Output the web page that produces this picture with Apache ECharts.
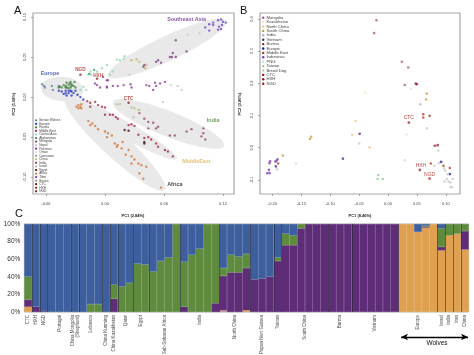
<!DOCTYPE html>
<html><head><meta charset="utf-8">
<style>html,body{margin:0;padding:0;background:#fff}#c{width:474px;height:355px}</style>
<script src="https://cdn.jsdelivr.net/npm/echarts@6/dist/echarts.min.js"></script>
</head><body><div id="c"></div>
<script>
// ---------- Panel A (PC1, PC2) ----------
const aSoutheast=[[.106,.091],[.110,.093],[.115,.096],[.118,.097],[.120,.094],[.123,.093],[.119,.090],[.116,.088],[.115,.084],[.118,.085],[.110,.090],[.106,.083],[.102,.087]];
const aMongolia=[[.083,.057],[.069,.055],[.068,.050],[.066,.050],[.072,.050],[.054,.046],[.057,.043],[.052,.044],[.040,.040],[.039,.038],[.072,.071]];
const aNepal=[[.084,.078],[.096,.080],[.025,.028],[.067,.015],[.074,.014],[.078,.009],[.059,-.006]];
const aChina=[[.027,.046],[.032,.047],[.035,.044],[.041,.036],[.042,.040]];
const aCentral=[[.012,.047],[.015,.046],[.019,.048],[.020,.051],[.002,.040],[-.003,.036],[-.008,.032],[-.015,.032],[-.017,.028],[.008,.032],[.005,.028],[-.014,.028],[-.025,.009],[-.019,.009],[-.022,.013]];
const aAfghan=[[-.011,.034],[-.016,.029]];
const aPakistan=[[.002,.021],[-.008,.015],[-.005,.012],[.002,.013],[.008,.014],[.013,.014],[.019,.015],[.026,.016],[.027,.012],[.042,.015],[.051,.018],[.052,.014],[.056,.017],[.061,.019],[.045,.014],[.049,.009],[.002,.012],[-.010,.017],[.003,.021],[-.002,.025]];
const aIberian=[[-.064,.016],[-.061,.012],[-.054,.014],[-.053,.009],[-.062,.014],[-.047,.014]];
const aRussia=[[-.047,.012],[-.044,.012],[-.040,.014],[-.037,.015],[-.034,.016],[-.031,.019],[-.039,.018],[-.035,.019],[-.042,.015],[-.046,.013],[-.039,.012],[-.035,.012],[-.032,.014],[-.037,.011],[-.034,.014],[-.040,.012],[-.030,.012],[-.036,.017]];
const aEurope=[[-.047,.008],[-.044,.007],[-.040,.005],[-.037,.005],[-.034,.007],[-.030,.008],[-.042,.004],[-.039,.002],[-.035,.008],[-.032,.005],[-.037,.008],[-.040,.008],[-.025,.000],[-.028,.003],[-.022,-.003],[-.034,.002]];
const aMiddle=[[-.018,-.005],[-.015,-.007],[-.010,-.006],[-.007,-.010],[-.003,-.012],[.000,-.013],[.005,-.022],[.008,-.022],[.011,-.025],[.013,-.027],[.000,-.022],[-.015,-.012],[.024,-.035],[.027,-.034],[.030,-.036],[.034,-.047],[.040,-.051],[.044,-.050],[.047,-.053],[.052,-.058],[.061,-.066],[.064,-.068],[.069,-.074],[.054,-.062]];
const aEgypt=[[.040,-.056],[.040,-.058],[.020,-.041],[.024,-.042]];
const aAfrica=[[-.027,-.010],[-.025,-.012],[-.027,-.014],[-.024,-.009],[-.029,-.012],[-.024,-.014],[-.017,-.030],[-.013,-.033],[-.015,-.035],[-.010,-.036],[-.007,-.040],[.000,-.043],[.003,-.045],[.002,-.050],[.007,-.048],[.010,-.058],[.013,-.060],[.012,-.062],[.017,-.064],[.018,-.056],[.024,-.066],[.021,-.072],[.027,-.074],[.030,-.078],[.027,-.083],[.034,-.083],[.035,-.095],[.037,-.085],[.039,-.102],[.057,-.113],[.042,-.087]];
const aIndiaPale=[[.012,-.009],[.015,-.009],[.027,-.013],[.030,-.014],[.034,-.016],[.035,-.016],[.029,-.025]];
const aIndia=[[.040,-.027],[.044,-.031],[.049,-.032],[.052,-.039],[.054,-.037],[.066,-.048],[.071,-.048],[.083,-.043],[.088,-.040],[.100,-.039],[.100,-.045],[.098,-.049],[.102,-.053],[.035,-.020],[.044,-.039]];
const aCTC=[[.024,-.007]], aHXH=[[-.008,.023]], aNGD=[[-.025,.028]];
// ends of each ellipse's long axis, then width / length
const aEllipses=[[-.065,.012,-.022,.008,.58],[.003,.026,.123,.095,.19],[.008,-.006,.121,-.061,.21],[-.039,0,.073,-.077,.13],[-.040,-.002,.061,-.116,.19]];
const aLabels=[['Southeast Asia',.083,.097,'#6a2a8c'],['Europe',-.056,.029,'#3040b0'],['NGD',-.025,.034,'#b02020'],['HXH',-.007,.027,'#b02020'],['CTC',.024,-.002,'#b02020'],['India',.110,-.029,'#4f8a3a'],['MiddleEast',.093,-.080,'#e0b050'],['Africa',.071,-.109,'#111']];
const aXTicks=[-.06,0,.06,.12], aYTicks=[-.1,-.05,0,.05,.1];
const aLegend=[['Iberian Wolves',aIberian,'#667799'],['Europe',aEurope,'#2030c0'],['Russia',aRussia,'#3d7a3d'],['Middle East',aMiddle,'#a02040'],['Central Asia',aCentral,'#8fd8b0'],['Afghanistan',aAfghan,'#2c8a60'],['Mongolia',aMongolia,'#7a3a80'],['Nepal',aNepal,'#c8c8c8'],['Pakistan',aPakistan,'#8a3a9a'],['Oman',[],'#dddddd'],['Cameroon',[],'#999999'],['China',aChina,'#c8b060'],['India',aIndia,'#904070'],['Israel',aIndiaPale,'#b0c090'],['Egypt',aEgypt,'#300808'],['Africa',aAfrica,'#d07030'],['Tibet',aSoutheast,'#6a3dc0'],['Burma',[],'#999999'],['CTC',aCTC,'#801010'],['HXH',aHXH,'#801010'],['NGD',aNGD,'#801010']];

// ---------- Panel B (PC1, PC2) ----------
const bMongolia=[[-.020,.396],[-.024,.356],[.024,.267],[.035,.249],[.029,.195]];
const bKazakh=[[.039,.183],[.032,.041],[-.039,.171]];
const bNorth=[[-.056,.083],[-.062,.040],[-.032,.001]];
const bSouth=[[.067,.168],[.066,.150],[-.133,.034],[-.135,.027],[-.182,-.024]];
const bIndic=[[.056,.135]];
const bVietnam=[[-.049,.043],[-.078,-.034],[-.194,-.058]];
const bBurma=[[.048,.199],[.050,.197],[.081,.006],[.086,.008]];
const bEurope=[[.092,-.044],[.107,-.082]];
const bMiddle=[[.061,.104],[.061,.094],[.072,.099],[-.190,-.049],[.074,-.049],[.096,-.056],[.107,-.063]];
const bIndonesia=[[-.204,-.042],[-.205,-.048],[-.191,-.036],[-.193,-.041],[-.195,-.043],[-.206,-.069],[-.209,-.079],[-.205,-.079]];
const bPNG=[[-.193,-.067],[-.191,-.067],[.029,-.039],[-.159,-.049]];
const bTaiwan=[[-.017,-.085],[-.018,-.097],[-.009,-.097]];
const bBreed=[[.067,.060],[-.050,.013],[.087,-.009],[.080,-.056],[.088,-.048],[.097,-.064],[.099,-.072],[.103,-.082],[.102,-.097],[.112,-.097],[.105,-.105],[.108,-.108],[.098,-.105],[.108,-.122],[.111,-.123]];
const bCTC=[[.036,.078]], bHXH=[[.055,-.069]], bNGD=[[.072,-.096]];
const bLabels=[['CTC',.036,.092],['HXH',.057,-.056],['NGD',.072,-.084]];
const bXTicks=[-.2,-.15,-.1,-.05,0,.05,.1], bYTicks=[-.1,0,.1,.2,.3,.4];
const bLegend=[['Mongolia',bMongolia,'#9a5a80'],['Kazakhstan',bKazakh,'#f0e4c0'],['North China',bNorth,'#eec880'],['South China',bSouth,'#c8983c'],['India',bIndic,'#b8a8d0'],['Vietnam',bVietnam,'#4a2a70'],['Burma',bBurma,'#8b1a2a'],['Europe',bEurope,'#1a1a9a'],['Middle East',bMiddle,'#a83c20'],['Indonesia',bIndonesia,'#7a3db8'],['PNG',bPNG,'#d0d8e0'],['Taiwan',bTaiwan,'#90c890'],['Breed Dog',bBreed,'#c8c8c0'],['CTC',bCTC,'#a01818'],['HXH',bHXH,'#a01818'],['NGD',bNGD,'#a01818']];

// ---------- Panel C (ancestry %, one bar per individual) ----------
const cPink  =[0,0,0,0,0,0,0,0,0,0,0,0,0,0,0,0,0,0,0,0,0,0,0,0,0,2,0,0,0,0,0,0,0,0,0,0,0,0,0,0,0,0,0,0,0,0,0,0,0,0,0,0,0,0,0,0,0];
const cOrange=[6,0,0,0,0,0,0,0,0,0,0,0,0,0,0,0,0,0,0,0,0,0,0,0,0,0,0,0,2,0,0,0,0,0,0,0,0,0,0,0,0,0,0,0,0,0,0,0,100,100,91,96,100,70,87,89,71];
const cPurple=[8,6,1,0,0,0,0,0,0,0,0,15,0,0,0,0,0,0,0,0,6,0,0,0,10,39,45,45,48,37,38,40,58,76,76,95,100,100,100,100,100,100,100,100,100,100,100,100,0,0,0,1,0,4,0,0,21];
const cGreen =[26,0,0,0,0,0,0,0,9,9,0,16,29,33,55,54,46,58,62,100,51,65,72,100,90,9,20,18,16,0,0,0,4,13,11,5,0,0,0,0,0,0,0,0,0,0,0,0,0,0,0,1,0,21,13,11,8];
const cBlue  =[60,94,99,100,100,100,100,100,91,91,100,69,71,67,45,46,54,42,38,0,43,35,28,0,0,50,35,37,34,63,62,60,38,11,13,0,0,0,0,0,0,0,0,0,0,0,0,0,0,0,9,2,0,5,0,0,0];
const cBoundaries=[0,1,2,3,6,7,10,11,12,14,16,20,25,29,32,33,39,42,48,53,54,55,56,57];
const cGroups=['CTC','HXH','NGD','Portugal','China Mongolia\n(Shepherd)','Lebanon','China Kunming','China Kazakhstan','Qatar','Egypt','Sub-Saharan Africa','India','North China','Papua New Guinea','Taiwan','South China','Burma','Vietnam','Europe','Israel','India','Iran','China'];
const cYTicks=[0,20,40,60,80,100];

const FONT='"Liberation Sans",Arial,sans-serif';
const FRAME='#a8a8a8';
function ptAxis(min,max,idx,ticks,isY,dec){
  return {type:'value',gridIndex:idx,min:min,max:max,splitLine:{show:false},axisLine:{show:false,onZero:false},
    axisTick:{show:true,customValues:ticks,length:2,lineStyle:{color:'#777',width:.6}},
    axisLabel:{show:true,customValues:ticks,fontSize:4,color:'#444',fontFamily:FONT,margin:isY?6:8,rotate:isY?90:0,
      formatter:v=>v.toFixed(dec)},
    nameTextStyle:{fontSize:4,fontWeight:'bold',color:'#222',fontFamily:FONT}};
}
const ellipseSeries={type:'custom',xAxisIndex:0,yAxisIndex:0,z:1,silent:true,clip:true,data:aEllipses,
  encode:{x:[0,2],y:[1,3]},
  renderItem:(p,api)=>{
    const a=api.coord([api.value(0),api.value(1)]),b=api.coord([api.value(2),api.value(3)]);
    const dx=b[0]-a[0],dy=b[1]-a[1],len=Math.hypot(dx,dy)/2;
    return {type:'ellipse',x:(a[0]+b[0])/2,y:(a[1]+b[1])/2,rotation:-Math.atan2(dy,dx),
      shape:{cx:0,cy:0,rx:len,ry:len*api.value(4)},style:{fill:'#e9e9e9'}};
  }};
function scatterSeries(list,ax,size){
  return list.map(([name,d,col])=>({type:'scatter',name:name,xAxisIndex:ax,yAxisIndex:ax,data:d,z:3,
    symbolSize:size,itemStyle:{color:col,opacity:.75},silent:true}));
}
function textSeries(list,ax,fn){
  return {type:'scatter',xAxisIndex:ax,yAxisIndex:ax,symbolSize:0,z:5,silent:true,
    data:list.map(l=>({value:[l[1],l[2]],label:fn(l)})),
    label:{show:true,position:'inside'}};
}
const aText=textSeries(aLabels,0,l=>({show:true,position:'inside',formatter:l[0],fontSize:l[0].length<4?4.6:5.4,fontWeight:'bold',color:l[3],fontFamily:FONT}));
const bText=textSeries(bLabels,1,l=>({show:true,position:'inside',formatter:l[0],fontSize:5,color:'#a01818',fontFamily:FONT}));
function legend(list,left,top,fs,h,item){
  return {orient:'vertical',left:left,top:top,padding:0,itemGap:0,itemWidth:item,itemHeight:item,selectedMode:false,
    icon:'circle',align:'left',
    textStyle:{fontSize:fs,lineHeight:h,height:h,color:'#444',fontFamily:FONT,padding:[0,0,0,-3]},
    data:list.map(([n,,c])=>({name:n,itemStyle:{color:c,opacity:1}}))};
}
const stack=(name,d,col)=>({type:'bar',name:name,stack:'c',xAxisIndex:2,yAxisIndex:2,data:d.map(v=>v===0?null:v),barWidth:'100%',barCategoryGap:0,
  itemStyle:{color:col,borderColor:col,borderWidth:.4},silent:true,z:2});
const cCats=cBlue.map((_,i)=>String(i));
const cLabelData=cGroups.map((n,i)=>({value:[(cBoundaries[i]+cBoundaries[i+1])/2,0],label:{formatter:n}}));
const cLabels={type:'scatter',xAxisIndex:3,yAxisIndex:2,symbolSize:0,silent:true,z:6,data:cLabelData,
  label:{show:true,position:'bottom',distance:3,rotate:90,align:'right',verticalAlign:'middle',fontSize:4.5,lineHeight:5,color:'#222',fontFamily:FONT},
  markLine:{silent:true,symbol:'none',animation:false,label:{show:false},lineStyle:{color:'#2a2a3a',width:.7,type:'solid',opacity:.9},
    data:cBoundaries.slice(1,-1).map(v=>({xAxis:v}))}};
const wolves={type:'scatter',xAxisIndex:3,yAxisIndex:2,data:[],silent:true,
  markLine:{silent:true,animation:false,symbol:['arrow','arrow'],symbolSize:[5,7],label:{show:false},lineStyle:{color:'#000',width:1.3,type:'solid'},
    data:[[{x:401,y:337},{x:468,y:337}]]}};

const option={animation:false,backgroundColor:'#fff',
  textStyle:{fontFamily:FONT},
  grid:[
    {left:33,top:13,width:201,height:181,show:true,borderColor:FRAME,borderWidth:1.2,backgroundColor:'#fff',containLabel:false},
    {left:260,top:13,width:200,height:181,show:true,borderColor:FRAME,borderWidth:1.2,backgroundColor:'#fff',containLabel:false},
    {left:24.3,top:224,width:444.4,height:88,show:true,borderColor:'#999',borderWidth:.6,containLabel:false}
  ],
  xAxis:[
    ptAxis(-.0732,.1312,0,aXTicks,false,2),
    ptAxis(-.2215,.1246,1,bXTicks,false,2),
    {type:'category',gridIndex:2,data:cCats,axisLine:{show:false,onZero:false},axisTick:{show:false},axisLabel:{show:false}},
    {type:'value',gridIndex:2,min:0,max:57,axisLine:{show:false,onZero:false},axisTick:{show:false},axisLabel:{show:false},splitLine:{show:false}}
  ],
  yAxis:[
    ptAxis(-.121,.105,0,aYTicks,true,2),
    ptAxis(-.1438,.4185,1,bYTicks,true,1),
    {type:'value',gridIndex:2,min:0,max:100,interval:20,axisLine:{show:false},axisTick:{show:false},splitLine:{show:false},
      axisLabel:{fontSize:6.5,color:'#333',margin:4,fontFamily:FONT,formatter:'{value}%',customValues:cYTicks}}
  ],
  legend:[legend(aLegend,35,118.5,3.2,3.55,2.2),legend(bLegend,262,15.5,4.2,4.4,2.4)],
  series:[ellipseSeries,
    ...scatterSeries(aLegend,0,2.4),aText,
    ...scatterSeries(bLegend,1,2.6),bText,
    stack('pink',cPink,'#c98a8a'),stack('orange',cOrange,'#dfa050'),stack('purple',cPurple,'#5f2d78'),stack('green',cGreen,'#5f8b3f'),stack('blue',cBlue,'#3d5f9e'),
    cLabels,wolves],
  graphic:[
    {type:'text',left:14,top:5,style:{text:'A',fontSize:11,fill:'#111',font:'11px '+FONT}},
    {type:'text',left:240,top:5,style:{text:'B',fontSize:11,fill:'#111',font:'11px '+FONT}},
    {type:'text',left:15,top:208,style:{text:'C',fontSize:11,fill:'#111',font:'11px '+FONT}},
    {type:'text',x:14,y:104,rotation:Math.PI/2,style:{text:'PC2 (1.68%)',align:'center',verticalAlign:'middle',font:'bold 4px '+FONT,fill:'#222'}},
    {type:'text',x:240,y:104,rotation:Math.PI/2,style:{text:'PC2 (3.86%)',align:'center',verticalAlign:'middle',font:'bold 4px '+FONT,fill:'#222'}},
    {type:'text',x:133,y:216,style:{text:'PC1 (2.84%)',align:'center',verticalAlign:'middle',font:'bold 4px '+FONT,fill:'#222'}},
    {type:'text',x:360,y:216,style:{text:'PC1 (8.46%)',align:'center',verticalAlign:'middle',font:'bold 4px '+FONT,fill:'#222'}},
    {type:'text',x:437,y:343,style:{text:'Wolves',align:'center',verticalAlign:'middle',font:'6.5px '+FONT,fill:'#111'}}
  ]
};
echarts.init(document.getElementById('c'),null,{renderer:'canvas'}).setOption(option);
</script></body></html>
